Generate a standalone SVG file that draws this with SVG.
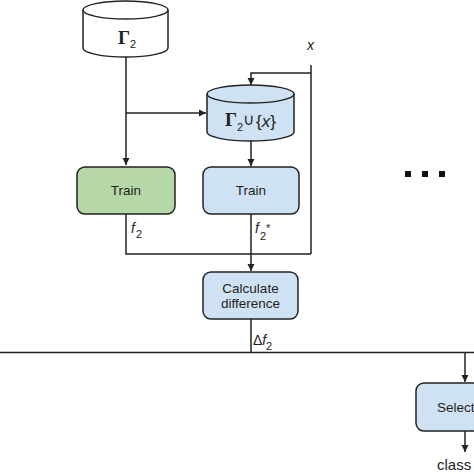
<svg xmlns="http://www.w3.org/2000/svg" width="474" height="474" viewBox="0 0 474 474">
<style>
.box{stroke:#222;stroke-width:1.5}
.blue{fill:#cfe2f3}
.green{fill:#b6d7a8}
.ln{fill:none;stroke:#222;stroke-width:1.5}
.t{font-family:"Liberation Sans",Arial,sans-serif;font-size:13.5px;fill:#222;text-anchor:middle}
.m{font-family:"Liberation Sans",Arial,sans-serif;font-size:14px;fill:#222;font-style:italic}
.g{font-family:"Liberation Serif","Times New Roman",serif;font-weight:bold;font-size:19px;fill:#222}
.sub{font-family:"Liberation Sans",Arial,sans-serif;font-size:11px;fill:#222}
</style>
<defs>
<marker id="ah" viewBox="0 0 10 10" refX="10" refY="5" markerWidth="5" markerHeight="5" orient="auto-start-reverse">
<path d="M0,0 L10,5 L0,10 z" fill="#222"/>
</marker>
</defs>
<g id="connectors">
<path class="ln" d="M126,57 V165" marker-end="url(#ah)"/>
<path class="ln" d="M126,113 H206" marker-end="url(#ah)"/>
<path class="ln" d="M311,65 V254"/>
<path class="ln" d="M311,73 H251 V85" marker-end="url(#ah)"/>
<path class="ln" d="M251,141 V166" marker-end="url(#ah)"/>
<path class="ln" d="M126,214 V254 H311"/>
<path class="ln" d="M251,214 V271" marker-end="url(#ah)"/>
<path class="ln" d="M251,319 V352"/>
<path class="ln" d="M0,352.5 H474"/>
<path class="ln" d="M465,353 V382" marker-end="url(#ah)"/>
<path class="ln" d="M465,431 V452" marker-end="url(#ah)"/>
</g>
<g id="gamma2">
<path class="box" fill="#fff" d="M83,10 V48 A42.5,9 0 0 0 168,48 V10"/>
<ellipse class="box" fill="#fff" cx="125.5" cy="10" rx="42.5" ry="9"/>
<text class="g" x="118" y="44">Γ</text><text class="sub" x="130" y="48">2</text>
</g>
<g id="gamma2x">
<path class="box blue" d="M207,94 V132 A43.5,9 0 0 0 294,132 V94"/>
<ellipse class="box blue" cx="250.5" cy="94" rx="43.5" ry="9"/>
<text class="g" x="225" y="126">Γ</text><text class="sub" x="237" y="131">2</text>
<text x="243" y="125" style="font-family:'DejaVu Sans',sans-serif;font-size:16px;fill:#222">∪</text>
<text x="256" y="127" style="font-family:'Liberation Sans',Arial,sans-serif;font-size:17px;fill:#222">{<tspan font-style="italic">x</tspan>}</text>
</g>
<g id="x-label"><text class="m" x="307" y="50">x</text></g>
<g id="train1">
<rect class="box green" x="77" y="167" width="98" height="47" rx="8"/>
<text class="t" x="126" y="195">Train</text>
</g>
<g id="train2">
<rect class="box blue" x="203" y="167" width="96" height="47" rx="8"/>
<text class="t" x="251" y="195">Train</text>
</g>
<g id="f2"><text class="m" x="131" y="233">f</text><text class="sub" x="136" y="238">2</text></g>
<g id="f2s"><text class="m" x="255" y="233">f</text><text class="sub" x="260" y="240">2</text><text class="sub" x="266" y="232">*</text></g>
<g id="calc">
<rect class="box blue" x="203" y="272" width="95" height="47" rx="8"/>
<text class="t" x="250.5" y="293">Calculate</text>
<text class="t" x="250.5" y="308">difference</text>
</g>
<g id="df2"><text x="253" y="345" style="font-family:'Liberation Sans',Arial,sans-serif;font-size:14px;fill:#222">Δ<tspan font-style="italic">f</tspan></text><text class="sub" x="266" y="350">2</text></g>
<g id="dots" fill="#111">
<rect x="405" y="171" width="6" height="6"/>
<rect x="422" y="171" width="6" height="6"/>
<rect x="439" y="171" width="6" height="6"/>
</g>
<g id="select">
<rect class="box blue" x="416" y="383" width="80" height="48" rx="8"/>
<text x="437" y="412" style="font-family:'Liberation Sans',Arial,sans-serif;font-size:13.5px;fill:#222">Select</text>
</g>
<g id="class"><text x="437" y="470" style="font-family:'Liberation Sans',Arial,sans-serif;font-size:15px;fill:#222">class</text></g>
</svg>
